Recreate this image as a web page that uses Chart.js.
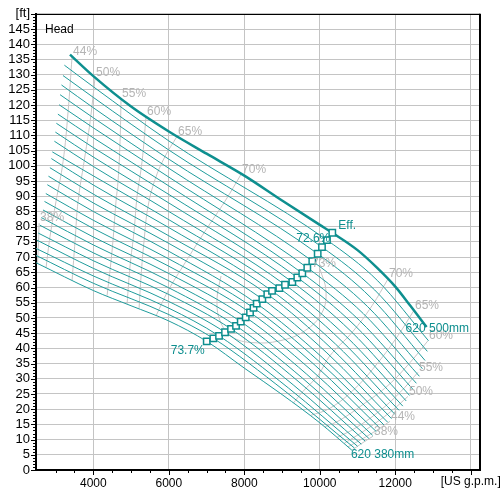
<!DOCTYPE html>
<html>
<head>
<meta charset="utf-8">
<script src="https://cdn.jsdelivr.net/npm/chart.js@4.4.1/dist/chart.umd.min.js"></script>
<style>
  html, body { margin: 0; padding: 0; background: #fff; }
  #wrap { width: 500px; height: 500px; }
</style>
</head>
<body>
<div id="wrap"><canvas id="pumpChart"></canvas></div>
<script>
// impeller diameters [mm]
const diameters = [380, 385, 390, 395, 400, 405, 410, 415, 420, 425, 430, 435, 440,
                   445, 450, 455, 460, 465, 470, 475, 480, 485, 490, 495, 500];

// axis ticks
const xTicks = [4000, 6000, 8000, 10000, 12000, 14000];
const yTicks = [0, 5, 10, 15, 20, 25, 30, 35, 40, 45, 50, 55, 60, 65, 70, 75,
                80, 85, 90, 95, 100, 105, 110, 115, 120, 125, 130, 135, 140, 145, 150];

// Q-H curves, [flow US gpm, head ft]
const d380 = [[2474,68.2],[4000,59.0],[5000,54.0],[6000,49.0],[7004,42.3],[8000,33.5],[9000,24.8],[10000,15.5],[10850,6.5]];
const d385 = [[2474,70.6],[4000,61.4],[6000,51.1],[7179,43.3],[9050,26.2],[10920,7.2]];
const d390 = [[2474,72.9],[4000,63.8],[6000,53.2],[7330,44.1],[9165,27.0],[11000,7.8]];
const d395 = [[2500,75.6],[4000,66.3],[6000,55.4],[7489,45.3],[9295,28.0],[11100,8.5]];
const d400 = [[2540,77.9],[4000,68.8],[6000,57.7],[7648,46.4],[9424,29.2],[11200,9.5]];
const d405 = [[2580,80.5],[4000,71.4],[6000,59.9],[7780,47.4],[9540,30.2],[11300,10.4]];
const d410 = [[2620,83.0],[4000,74.0],[6000,62.2],[7905,48.8],[9653,31.5],[11400,11.4]];
const d415 = [[2665,85.5],[4000,76.6],[6000,64.6],[8037,50.2],[9769,32.9],[11500,12.6]];
const d420 = [[2705,88.3],[4000,79.4],[6000,67.0],[8151,51.8],[9876,34.4],[11600,13.7]];
const d425 = [[2740,90.9],[4000,82.1],[6000,69.4],[8244,53.3],[9972,35.8],[11700,14.8]];
const d430 = [[2780,93.8],[4000,85.0],[6000,71.9],[8329,54.7],[10065,37.0],[11800,15.7]];
const d435 = [[2810,96.6],[4000,87.8],[6000,74.5],[8477,56.2],[10189,38.5],[11900,16.9]];
const d440 = [[2848,99.4],[4000,90.7],[6000,77.0],[8609,57.8],[10305,40.0],[12000,18.2]];
const d445 = [[2887,102.4],[4000,93.7],[6000,79.7],[8734,58.9],[10417,41.4],[12100,19.6]];
const d450 = [[2912,104.6],[4000,96.7],[6000,82.3],[8927,59.8],[10564,42.6],[12200,21.0]];
const d455 = [[2967,108.1],[4000,99.8],[6000,85.0],[9078,60.9],[10684,44.1],[12290,22.7]];
const d460 = [[2993,111.1],[4000,102.9],[6000,87.8],[9272,61.8],[10826,45.6],[12380,24.5]];
const d465 = [[3020,114.0],[4000,106.0],[6000,90.6],[9404,63.3],[10937,47.4],[12470,26.5]];
const d470 = [[3060,117.0],[4000,109.2],[6000,93.4],[9536,64.7],[11048,49.2],[12560,28.5]];
const d475 = [[3092,120.1],[4000,112.5],[6000,96.3],[9669,66.5],[11155,51.4],[12640,30.8]];
const d480 = [[3118,123.4],[4000,115.8],[6000,99.2],[9801,68.7],[11261,53.8],[12720,33.3]];
const d485 = [[3155,126.6],[4000,119.1],[6000,102.2],[9944,71.1],[11367,56.5],[12790,36.0]];
const d490 = [[3195,129.7],[4000,122.5],[6000,105.2],[10058,73.3],[11454,59.2],[12850,39.0]];
const d495 = [[3232,133.1],[4000,126.0],[6000,108.2],[10190,75.6],[11535,62.2],[12880,42.5]];
const d500 = [[3380,136.6],[4000,129.5],[5000,119.5],[6000,111.3],[7000,104.0],[8000,96.8],[9000,88.6],
              [10000,80.6],[10331,78.0],[11000,72.3],[11500,66.7],[12000,60.3],[12400,54.0],[12830,47.0]];

// best efficiency points, one per diameter
const bepFlow = [7004,7179,7330,7489,7648,7780,7905,8037,8151,8244,8329,8477,8609,
                 8734,8927,9078,9272,9404,9536,9669,9801,9944,10058,10190,10331];
const bepHead = [42.3,43.3,44.1,45.3,46.4,47.4,48.8,50.2,51.8,53.3,54.7,56.2,57.8,
                 58.9,59.8,60.9,61.8,63.3,64.7,66.5,68.7,71.1,73.3,75.6,78.0];

// iso-efficiency lines, left and right branches
const eff38L = [[2562,81.2],[2548,75.3],[2522,67.9]];
const eff44L = [[3436,136.0],[3330,117.8],[3197,101.4],[3012,88.4],[2853,76.9],[2747,66.6]];
const eff50L = [[4045,129.0],[3913,114.5],[3754,101.4],[3595,88.4],[3515,75.3],[3436,62.4]];
const eff55L = [[4734,122.2],[4707,108.0],[4654,94.9],[4601,88.4],[4495,72.0],[4363,57.3]];
const eff60L = [[5396,116.3],[5290,101.4],[5158,90.0],[5078,78.5],[4972,67.1],[4893,54.6]];
const eff65L = [[6217,109.7],[5899,103.1],[5634,95.5],[5449,86.7],[5343,75.3],[5264,63.8],[5211,53.1]];
const eff70L = [[7913,97.2],[7489,88.4],[6959,78.5],[6429,68.1],[5979,58.9],[5661,50.7]];
const eff73  = [[10005,66.1],[10164,58.9],[10058,51.7],[9608,45.8],[8946,42.5],[8204,41.9],
                [7674,43.8],[7356,49.1],[7277,56.3],[7383,63.8]];
const eff70R = [[11807,62.8],[11383,54.0],[10853,45.2],[10270,37.6],[9952,31.1],[9528,25.5],[9300,22.0]];
const eff65R = [[12495,52.5],[12071,44.2],[11542,35.3],[10932,26.8],[10270,20.3],[9740,17.9]];
const eff60R = [[12866,42.5],[12389,35.3],[11807,27.8],[11118,21.3],[10535,16.4],[10138,14.2]];
const eff55R = [[12601,32.1],[12124,25.5],[11542,19.0],[10932,13.7],[10455,10.7]];
const eff50R = [[12337,24.2],[11860,19.0],[11277,13.7],[10641,8.7]];
const eff44R = [[11860,16.0],[11383,12.1],[10747,7.6]];
const eff38R = [[11409,11.1],[11118,8.8],[10850,6.5]];

const effLines  = [eff38L, eff44L, eff50L, eff55L, eff60L, eff65L, eff70L, eff73,
                   eff70R, eff65R, eff60R, eff55R, eff50R, eff44R, eff38R];
const effLabels = ['38%', '44%', '50%', '55%', '60%', '65%', '70%', '73%',
                   '70%', '65%', '60%', '55%', '50%', '44%', '38%'];

const curves = [d380, d385, d390, d395, d400, d405, d410, d415, d420, d425, d430, d435, d440,
                d445, d450, d455, d460, d465, d470, d475, d480, d485, d490, d495, d500];

const TEAL = '#0e8f8f';
const TEAL_THIN = '#1f9c9c';
const GREY_LINE = '#c6c6c6';
const GREY_TEXT = '#b4b4b4';

const toXY = arr => arr.map(p => ({ x: p[0], y: p[1] }));

const datasets = [];

effLines.forEach(line => {
  datasets.push({
    data: toXY(line),
    showLine: true,
    borderColor: GREY_LINE,
    borderWidth: 1,
    pointRadius: 0,
    tension: 0.4,
    order: 10
  });
});

curves.forEach((c, i) => {
  const top = i === curves.length - 1;
  datasets.push({
    data: toXY(c),
    showLine: true,
    borderColor: top ? TEAL : TEAL_THIN,
    borderWidth: top ? 2.5 : 1,
    pointRadius: 0,
    cubicInterpolationMode: 'monotone',
    order: top ? 2 : 5
  });
});

datasets.push({
  data: bepFlow.map((q, i) => ({ x: q, y: bepHead[i] })),
  showLine: true,
  borderColor: TEAL,
  borderWidth: 1.5,
  pointStyle: 'rect',
  pointRadius: 4.5,
  pointBackgroundColor: '#fff',
  pointBorderColor: TEAL,
  pointBorderWidth: 1.5,
  order: 1
});

const textPlugin = {
  id: 'pumpText',
  afterDatasetsDraw(chart) {
    const { ctx, chartArea: a, scales: { x, y } } = chart;
    const px = v => x.getPixelForValue(v);
    const py = v => y.getPixelForValue(v);
    ctx.save();
    ctx.font = '12px "Liberation Sans", Arial, sans-serif';
    ctx.textBaseline = 'middle';

    // efficiency labels at the upper end of each line
    ctx.fillStyle = GREY_TEXT;
    ctx.textAlign = 'left';
    effLines.forEach((line, i) => {
      const dx = line === eff73 ? -8 : 1;
      ctx.fillText(effLabels[i], px(line[0][0]) + dx, py(line[0][1]) - 5);
    });

    // curve and BEP labels
    ctx.fillStyle = TEAL;
    const last = d500[d500.length - 1];
    ctx.fillText('620 ' + diameters[diameters.length - 1] + 'mm', px(last[0]) - 21, py(last[1]) + 2);
    const endLow = d380[d380.length - 1];
    ctx.fillText('620 ' + diameters[0] + 'mm', px(endLow[0]) - 1, py(endLow[1]) + 4);
    const nTop = bepFlow.length - 1;
    ctx.fillText('Eff.', px(bepFlow[nTop]) + 6, py(bepHead[nTop]) - 7);
    ctx.textAlign = 'right';
    ctx.fillText('72.6%', px(bepFlow[nTop]) - 2, py(bepHead[nTop]) + 6);
    ctx.fillText('73.7%', px(bepFlow[0]) - 2, py(bepHead[0]) + 9);

    // axis captions
    ctx.fillStyle = '#000';
    ctx.textAlign = 'left';
    ctx.fillText('Head', a.left + 9, a.top + 16);
    ctx.textAlign = 'center';
    ctx.fillText('[US g.p.m.]', px(14000), a.bottom + 12);
    ctx.restore();
  },
  afterDraw(chart) {
    const { ctx, chartArea: a, scales: { x, y } } = chart;
    ctx.save();
    ctx.strokeStyle = '#000';
    ctx.lineWidth = 1;
    ctx.beginPath();
    for (let v = 0; v <= 150; v += 1) {
      const p = Math.round(y.getPixelForValue(v)) + 0.5;
      const len = v % 5 === 0 ? 4 : 2;
      ctx.moveTo(a.left - 1 - len, p);
      ctx.lineTo(a.left, p);
    }
    for (let v = 3000; v <= 14000; v += 500) {
      const p = Math.round(x.getPixelForValue(v)) + 0.5;
      const len = v % 2000 === 0 ? 4 : 2;
      ctx.moveTo(p, a.bottom);
      ctx.lineTo(p, a.bottom + 1 + len);
    }
    ctx.stroke();
    // top and right frame
    ctx.beginPath();
    ctx.moveTo(a.left, Math.round(a.top) + 0.5);
    ctx.lineTo(a.right, Math.round(a.top) + 0.5);
    ctx.stroke();
    ctx.lineWidth = 2;
    ctx.beginPath();
    ctx.moveTo(Math.round(a.right), a.top);
    ctx.lineTo(Math.round(a.right), a.bottom + 1);
    ctx.stroke();
    ctx.restore();
  }
};

Chart.defaults.font.family = '"Liberation Sans", Arial, sans-serif';
Chart.defaults.color = '#000';

new Chart(document.getElementById('pumpChart'), {
  type: 'scatter',
  data: { datasets },
  options: {
    responsive: true,
    maintainAspectRatio: false,
    animation: false,
    events: [],
    layout: { padding: { top: 11, right: 20, left: 0, bottom: 0 } },
    plugins: { legend: { display: false }, tooltip: { enabled: false } },
    scales: {
      x: {
        type: 'linear',
        min: 2480,
        max: 14245,
        afterBuildTicks: s => { s.ticks = xTicks.map(v => ({ value: v })); },
        afterFit: s => { s.height = 30; },
        border: { color: '#000', width: 2 },
        grid: { color: '#c4c4c4', drawTicks: false },
        ticks: {
          autoSkip: false,
          maxRotation: 0,
          padding: 6,
          font: { size: 12 },
          callback: v => (v === 14000 ? '' : String(v))
        }
      },
      y: {
        type: 'linear',
        min: 0,
        max: 150,
        afterBuildTicks: s => { s.ticks = yTicks.map(v => ({ value: v })); },
        afterFit: s => { s.width = 36; },
        border: { color: '#000', width: 2 },
        grid: { color: '#c4c4c4', drawTicks: false },
        ticks: {
          autoSkip: false,
          padding: 6,
          font: { size: 13 },
          callback: v => (v === 150 ? '[ft]' : String(v))
        }
      }
    }
  },
  plugins: [textPlugin]
});
</script>
</body>
</html>
